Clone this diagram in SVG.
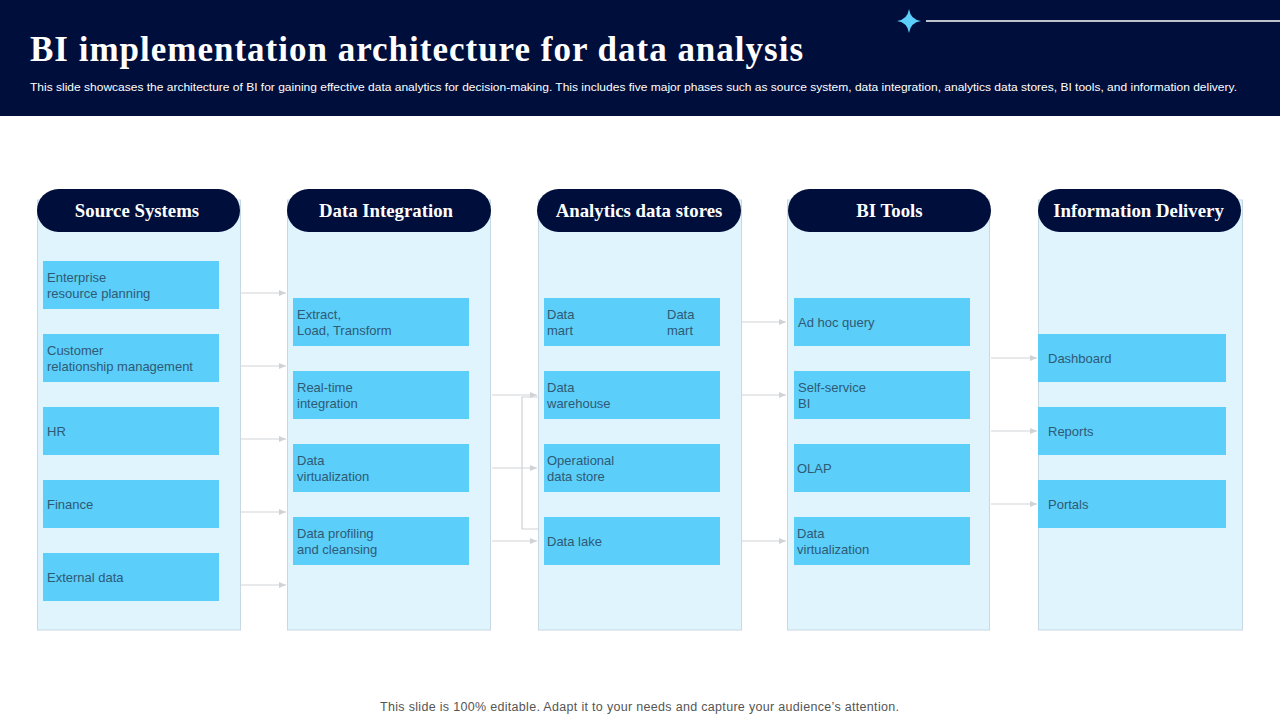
<svg xmlns="http://www.w3.org/2000/svg" width="1280" height="720" viewBox="0 0 1280 720">
<defs>
<marker id="ah" markerWidth="8" markerHeight="8" refX="7" refY="4" orient="auto" markerUnits="userSpaceOnUse">
<path d="M0,1 L7,4 L0,7 Z" fill="#cfd3d6"/>
</marker>
<style>
.panel{fill:#dff4fc;stroke:#c8d8e2;stroke-width:1}
.pill{fill:#000e3b}
.ph{font-family:"Liberation Serif",serif;font-weight:bold;font-size:18.8px;fill:#ffffff;text-anchor:middle}
.box{fill:#5bcefa}
.bt{font-family:"Liberation Sans",Arial,sans-serif;font-size:13px;fill:#2f5a74}
.cn{stroke:#cfd3d6;stroke-width:1.2;fill:none}
.ar{stroke:#cfd3d6;stroke-width:1.2;fill:none;marker-end:url(#ah)}
</style>
</defs>
<rect x="0" y="0" width="1280" height="720" fill="#ffffff"/>
<g id="header">
<rect x="0" y="0" width="1280" height="116" fill="#000e3b"/>
<text x="30" y="61" font-family="Liberation Serif,serif" font-weight="bold" font-size="35" fill="#ffffff" textLength="773" lengthAdjust="spacing">BI implementation architecture for data analysis</text>
<text x="30" y="91" font-family="Liberation Sans,Arial,sans-serif" font-size="11.3" fill="#ffffff" textLength="1207" lengthAdjust="spacingAndGlyphs">This slide showcases the architecture of BI for gaining effective data analytics for decision-making. This includes five major phases such as source system, data integration, analytics data stores, BI tools, and information delivery.</text>
<path d="M909,9 Q910.5,19.5 921,21 Q910.5,22.5 909,33 Q907.5,22.5 897,21 Q907.5,19.5 909,9 Z" fill="#5bcefa"/>
<line x1="926" y1="21" x2="1280" y2="21" stroke="#ffffff" stroke-width="1.5"/>
</g>
<g id="col-source">
<rect class="panel" x="37.5" y="200" width="203" height="430"/>
<rect class="pill" x="37" y="189" width="203" height="43" rx="21.5"/>
<text class="ph" x="137" y="217">Source Systems</text>
<rect class="box" x="43" y="261" width="176" height="48"/>
<text class="bt" x="47" y="282">Enterprise</text><text class="bt" x="47" y="298">resource planning</text>
<rect class="box" x="43" y="334" width="176" height="48"/>
<text class="bt" x="47" y="355">Customer</text><text class="bt" x="47" y="371">relationship management</text>
<rect class="box" x="43" y="407" width="176" height="48"/>
<text class="bt" x="47" y="436">HR</text>
<rect class="box" x="43" y="480" width="176" height="48"/>
<text class="bt" x="47" y="509">Finance</text>
<rect class="box" x="43" y="553" width="176" height="48"/>
<text class="bt" x="47" y="582">External data</text>
</g>
<g id="col-integration">
<rect class="panel" x="287.5" y="200" width="203" height="430"/>
<rect class="pill" x="287" y="189" width="204" height="43" rx="21.5"/>
<text class="ph" x="386" y="217">Data Integration</text>
<rect class="box" x="293" y="298" width="176" height="48"/>
<text class="bt" x="297" y="319">Extract,</text><text class="bt" x="297" y="335">Load, Transform</text>
<rect class="box" x="293" y="371" width="176" height="48"/>
<text class="bt" x="297" y="392">Real-time</text><text class="bt" x="297" y="408">integration</text>
<rect class="box" x="293" y="444" width="176" height="48"/>
<text class="bt" x="297" y="465">Data</text><text class="bt" x="297" y="481">virtualization</text>
<rect class="box" x="293" y="517" width="176" height="48"/>
<text class="bt" x="297" y="538">Data profiling</text><text class="bt" x="297" y="554">and cleansing</text>
</g>
<g id="col-stores">
<rect class="panel" x="538.5" y="200" width="203" height="430"/>
<rect class="pill" x="537" y="189" width="204" height="43" rx="21.5"/>
<text class="ph" x="639" y="217">Analytics data stores</text>
<rect class="box" x="544" y="298" width="176" height="48"/>
<text class="bt" x="547" y="319">Data</text><text class="bt" x="547" y="335">mart</text>
<text class="bt" x="667" y="319">Data</text><text class="bt" x="667" y="335">mart</text>
<rect class="box" x="544" y="371" width="176" height="48"/>
<text class="bt" x="547" y="392">Data</text><text class="bt" x="547" y="408">warehouse</text>
<rect class="box" x="544" y="444" width="176" height="48"/>
<text class="bt" x="547" y="465">Operational</text><text class="bt" x="547" y="481">data store</text>
<rect class="box" x="544" y="517" width="176" height="48"/>
<text class="bt" x="547" y="546">Data lake</text>
</g>
<g id="col-bitools">
<rect class="panel" x="787.5" y="200" width="202" height="430"/>
<rect class="pill" x="788" y="189" width="203" height="43" rx="21.5"/>
<text class="ph" x="889.5" y="217">BI Tools</text>
<rect class="box" x="794" y="298" width="176" height="48"/>
<text class="bt" x="798" y="327">Ad hoc query</text>
<rect class="box" x="794" y="371" width="176" height="48"/>
<text class="bt" x="798" y="392">Self-service</text><text class="bt" x="798" y="408">BI</text>
<rect class="box" x="794" y="444" width="176" height="48"/>
<text class="bt" x="797" y="473">OLAP</text>
<rect class="box" x="794" y="517" width="176" height="48"/>
<text class="bt" x="797" y="538">Data</text><text class="bt" x="797" y="554">virtualization</text>
</g>
<g id="col-delivery">
<rect class="panel" x="1038.5" y="200" width="204" height="430"/>
<rect class="pill" x="1038" y="189" width="203" height="43" rx="21.5"/>
<text class="ph" x="1138.5" y="217">Information Delivery</text>
<rect class="box" x="1038" y="334" width="188" height="48"/>
<text class="bt" x="1048" y="363">Dashboard</text>
<rect class="box" x="1038" y="407" width="188" height="48"/>
<text class="bt" x="1048" y="436">Reports</text>
<rect class="box" x="1038" y="480" width="188" height="48"/>
<text class="bt" x="1048" y="509">Portals</text>
</g>
<g id="connectors">
<line class="ar" x1="241" y1="293" x2="286" y2="293"/>
<line class="ar" x1="241" y1="366" x2="286" y2="366"/>
<line class="ar" x1="241" y1="439" x2="286" y2="439"/>
<line class="ar" x1="241" y1="512" x2="286" y2="512"/>
<line class="ar" x1="241" y1="585" x2="286" y2="585"/>
<line class="ar" x1="492" y1="395" x2="537" y2="395"/>
<line class="ar" x1="492" y1="468" x2="537" y2="468"/>
<line class="ar" x1="492" y1="541" x2="537" y2="541"/>
<path class="cn" d="M538,397 H522 V529 H538"/>
<line class="ar" x1="742" y1="322" x2="786" y2="322"/>
<line class="ar" x1="742" y1="395" x2="786" y2="395"/>
<line class="ar" x1="742" y1="541" x2="786" y2="541"/>
<line class="ar" x1="991" y1="358" x2="1037" y2="358"/>
<line class="ar" x1="991" y1="431" x2="1037" y2="431"/>
<line class="ar" x1="991" y1="504" x2="1037" y2="504"/>
</g>
<text x="380" y="711" font-family="Liberation Sans,Arial,sans-serif" font-size="12.5" fill="#555555" textLength="519" lengthAdjust="spacing">This slide is 100% editable. Adapt it to your needs and capture your audience’s attention.</text>
</svg>
